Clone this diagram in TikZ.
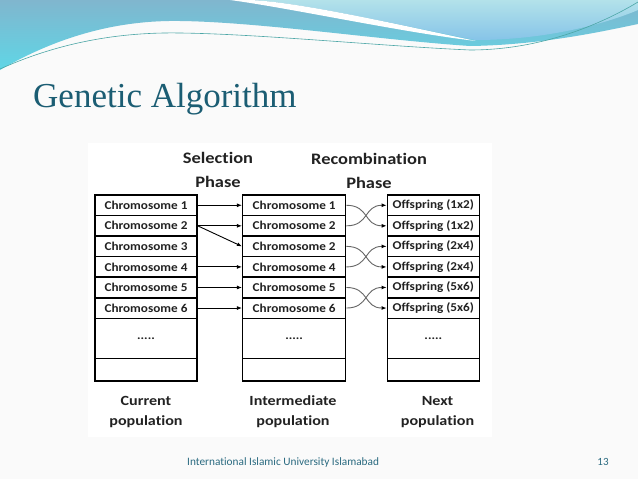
\documentclass[tikz,border=0pt]{standalone}
\usepackage{fontspec}
\setmainfont{Liberation Serif}
\newfontfamily\cellfont[FakeStretch=1.1, Ligatures=NoCommon]{Carlito}
\newfontfamily\headfont[FakeStretch=1.15, Ligatures=NoCommon]{Carlito}
\newfontfamily\footfont[Ligatures=NoCommon]{Carlito}
\usepackage{tikz}
\usetikzlibrary{arrows.meta}
\definecolor{titleteal}{HTML}{1B5D73}
\definecolor{footteal}{HTML}{2A6A80}
\definecolor{wavetop}{HTML}{80B6CE}
\definecolor{wavebot}{HTML}{5FD6E6}
\definecolor{paletop}{HTML}{B3E2EA}
\definecolor{palebot}{HTML}{86C4E8}
\definecolor{inktext}{HTML}{222222}

\begin{document}
\begin{tikzpicture}[x=1pt, y=-1pt,
  >={Latex[length=5pt,width=4pt]},
  cell/.style={draw=black, line width=1.5pt, fill=white, inner sep=0pt,
               minimum height=20.55pt, text=inktext,
               font=\cellfont\bfseries\fontsize{12}{12}\selectfont},
  head/.style={align=center, text=inktext,
               font=\headfont\bfseries\fontsize{16}{23.5}\selectfont},
  foot/.style={align=center, text=inktext,
               font=\headfont\bfseries\fontsize{14}{20}\selectfont},
  pick/.style={->, line width=0.9pt},
  cross/.style={-{Latex[length=5pt,width=4pt,black]}, draw=black!60, line width=0.9pt}]
\useasboundingbox (0,0) rectangle (638,479);
\fill[white!98!black] (0,0) rectangle (638,479);
% header wave
\shade[top color=wavetop, bottom color=wavebot]
  (0,0) -- (0,70) .. controls (60,35) and (120,20) .. (180,21)
  .. controls (260,22) and (380,40) .. (470,46)
  .. controls (540,45) and (600,32) .. (638,24) -- (638,0) -- cycle;
\shade[top color=paletop, bottom color=palebot]
  (250,0) .. controls (300,2) and (400,25) .. (475,40)
  .. controls (550,40) and (610,22) .. (638,10) -- (638,0) -- cycle;
\fill[white] (230,0) .. controls (290,8) and (400,32) .. (476,41)
  .. controls (400,25) and (300,2) .. (250,0) -- cycle;
\draw[teal!70, line width=0.6pt] (0,69) .. controls (60,42) and (120,32) .. (180,33)
  .. controls (260,34) and (380,46) .. (470,50) .. controls (540,50) and (600,25) .. (638,2);
% title
\node[anchor=base west, inner sep=0pt, text=titleteal,
      font=\fontsize{35}{35}\selectfont] (title) at (33,107) {Genetic Algorithm};
% diagram
\fill[white] (88,143) rectangle (492,437);
\node[head] (selhead) at (218,170) {Selection\\Phase};
\node[head] (rechead) at (369,171) {Recombination\\Phase};
\foreach \i/\t in {1/Chromosome 1, 2/Chromosome 2, 3/Chromosome 3,
                   4/Chromosome 4, 5/Chromosome 5, 6/Chromosome 6}
  \node[cell, minimum width=102pt] (c\i) at (146, 195+20.55*\i-10.275) {\t};
\foreach \i/\t in {1/Chromosome 1, 2/Chromosome 2, 3/Chromosome 2,
                   4/Chromosome 4, 5/Chromosome 5, 6/Chromosome 6}
  \node[cell, minimum width=103pt] (m\i) at (294.2, 195+20.55*\i-10.275) {\t};
\foreach \i/\t in {1/Offspring (1x2), 2/Offspring (1x2), 3/Offspring (2x4),
                   4/Offspring (2x4), 5/Offspring (5x6), 6/Offspring (5x6)}
  \node[cell, minimum width=92pt] (o\i) at (433.3, 195+20.55*\i-10.275) {\t};
\foreach \col/\x/\w in {c/146/102, m/294.2/103, o/433.3/92} {
  \node[cell, minimum width=\w pt, minimum height=40pt] (\col dots) at (\x,338.3) {.....};
  \node[cell, minimum width=\w pt, minimum height=22.7pt] (\col end) at (\x,369.65) {};
}
\node[foot] (curlab) at (146,412) {Current\\population};
\node[foot] (midlab) at (293,412) {Intermediate\\population};
\node[foot] (nextlab) at (437.5,412) {Next\\population};
% selection
\foreach \a/\b in {1/1, 2/2, 2/3, 4/4, 5/5, 6/6}
  \draw[pick] (c\a.east) -- (m\b.west);
% recombination
\foreach \a/\b in {1/2, 2/1, 3/4, 4/3, 5/6, 6/5}
  \draw[cross] (m\a.east) to[out=0, in=180, looseness=1.3] (o\b.west);
% footer
\node[anchor=base west, inner sep=0pt, text=footteal,
      font=\footfont\fontsize{11.3}{12}\selectfont] (uni) at (187,465)
  {International Islamic University Islamabad};
\node[anchor=base, inner sep=0pt, text=footteal,
      font=\footfont\fontsize{11}{12}\selectfont] (page) at (603,465) {13};
\end{tikzpicture}
\end{document}
